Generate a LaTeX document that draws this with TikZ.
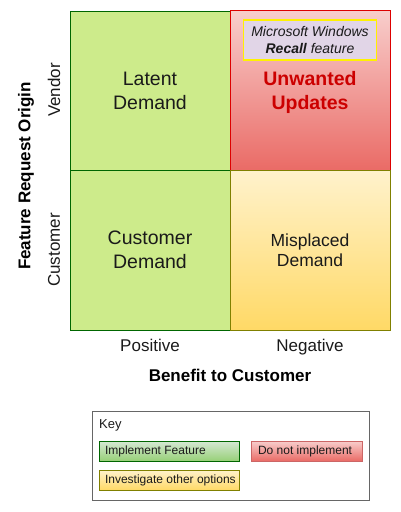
\documentclass[tikz,border=0pt]{standalone}
\usepackage{fontspec}
\setmainfont{Liberation Sans}
\definecolor{grfill}{HTML}{CDEB8B}
\definecolor{grline}{HTML}{006600}
\definecolor{rdtop}{HTML}{F8CECC}
\definecolor{rdbot}{HTML}{EA6B66}
\definecolor{rdline}{HTML}{DD0000}
\definecolor{yltop}{HTML}{FFF2CC}
\definecolor{ylbot}{HTML}{FFD966}
\definecolor{ylline}{HTML}{808000}
\definecolor{purp}{HTML}{E1D5E7}
\definecolor{txt}{HTML}{1A1A1A}
\definecolor{unw}{HTML}{CC0000}
\definecolor{kgtop}{HTML}{D5E8D4}
\definecolor{kgbot}{HTML}{97D077}
\definecolor{krline}{HTML}{CC6666}
\tikzset{
  quad/.style={minimum width=160pt,minimum height=160pt,inner sep=0pt,outer sep=0pt,align=center,line width=0.9pt,text=txt},
  greenq/.style={quad,draw=grline,fill=grfill},
  redq/.style={quad,draw=rdline,top color=rdtop,bottom color=rdbot},
  yelq/.style={quad,draw=ylline,top color=yltop,bottom color=ylbot},
  axlab/.style={text=txt,font=\fontsize{17}{20}\selectfont,inner sep=0pt},
  axtitle/.style={text=black,font=\bfseries\fontsize{17}{20}\selectfont,inner sep=0pt},
  keyitem/.style={minimum width=140pt,minimum height=20pt,inner sep=0pt,font=\fontsize{12}{14}\selectfont,text=txt,line width=0.8pt}
}
\begin{document}
\begin{tikzpicture}[x=1pt,y=-1pt]
\useasboundingbox (0,0) rectangle (401,512);
\node[greenq,font=\fontsize{19.5}{24}\selectfont] (q1) at (150,91) {Latent\\Demand};
\node[redq] (q2) at (310,90) {};
\node[greenq,font=\fontsize{19.5}{24}\selectfont] (q3) at (150,250) {Customer\\Demand};
\node[yelq,font=\fontsize{17.5}{20.5}\selectfont] (q4) at (310,250) {Misplaced\\Demand};
\node[text=unw,font=\bfseries\fontsize{19.5}{24}\selectfont,align=center] (unw) at (310,92) {Unwanted\\Updates};
\node[draw=yellow,line width=1.4pt,fill=purp,minimum width=133pt,minimum height=40pt,inner sep=0pt,align=center,font=\itshape\fontsize{14}{17}\selectfont,text=txt] (ms) at (310,40) {Microsoft Windows\\\textbf{Recall} feature};
\node[axlab,rotate=90] (vendor) at (54,90) {Vendor};
\node[axlab,rotate=90] (cust) at (54,250) {Customer};
\node[axtitle,rotate=90] (fro) at (26,176) {Feature Request Origin};
\node[axlab,anchor=base] (pos) at (150,351) {Positive};
\node[axlab,anchor=base] (neg) at (310,351) {Negative};
\node[axtitle,anchor=base] (btc) at (230,381) {Benefit to Customer};
\node[draw=black!60,line width=0.8pt,minimum width=277pt,minimum height=89pt,inner sep=0pt] (key) at (230.5,455.5) {};
\node[anchor=west,inner sep=0pt,text=txt,font=\fontsize{13}{15}\selectfont] (keyt) at (99,425) {Key};
\node[keyitem,draw=grline,top color=kgtop,bottom color=kgbot] (k1) at (169,451) {\makebox[128pt][l]{Implement Feature}};
\node[keyitem,draw=krline,top color=rdtop,bottom color=rdbot,minimum width=111pt] (k2) at (306.5,451) {\makebox[97pt][l]{Do not implement}};
\node[keyitem,draw=ylline,top color=yltop,bottom color=ylbot] (k3) at (169,480) {\makebox[128pt][l]{Investigate other options}};
\end{tikzpicture}
\end{document}
